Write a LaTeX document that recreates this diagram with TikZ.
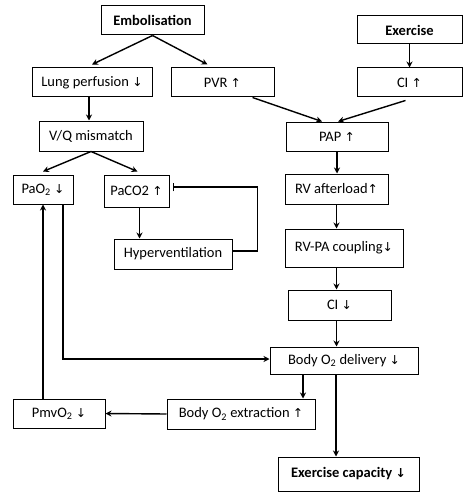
\documentclass[tikz,border=0pt]{standalone}
\usepackage{fontspec}
\setmainfont{Carlito}
\newfontfamily\arrowfont{DejaVu Sans}[Scale=0.85]
\newcommand{\arup}{{\arrowfont ↑}}
\newcommand{\ardn}{{\arrowfont ↓}}
\usetikzlibrary{arrows.meta}

\begin{document}
\begin{tikzpicture}[x=1pt,y=-1pt,>={Stealth[length=6pt,width=6pt]}]
\tikzstyle{every path}=[line width=1.4pt]
\tikzstyle{fbox}=[draw,line width=1pt,inner sep=2pt,font=\fontsize{14.5}{16}\selectfont]
\tikzstyle{bbox}=[fbox,font=\fontsize{14.5}{16}\selectfont\bfseries]

\useasboundingbox (0,0) rectangle (474,500);

%% Top row
\node [bbox,minimum width=103pt,minimum height=29pt] (emb) at (152.5,20.5) {Embolisation};
\node [bbox,minimum width=105pt,minimum height=28pt] (exer) at (409.5,30) {Exercise};
\node [fbox,minimum width=120pt,minimum height=29pt] (lung) at (92,82.5) {Lung perfusion \ardn};
\node [fbox,minimum width=103pt,minimum height=29pt] (pvr) at (222.5,82.5) {PVR \arup};
\node [fbox,minimum width=105pt,minimum height=29pt] (ciup) at (409.5,82.5) {CI \arup};
\node [fbox,minimum width=104pt,minimum height=30pt] (vq) at (91,136) {V/Q mismatch};
\node [fbox,minimum width=102pt,minimum height=29pt] (pap) at (337,136.5) {PAP \arup};

%% Gas exchange side
\node [fbox,minimum width=60pt,minimum height=29pt] (pao2) at (43,189.5) {PaO\textsubscript{2} \ardn};
\node [fbox,minimum width=65pt,minimum height=32pt] (paco2) at (136.5,191) {PaCO2 \arup};
\node [fbox,minimum width=118pt,minimum height=30pt] (hyper) at (173,254) {Hyperventilation};

%% Right ventricle side
\node [fbox,minimum width=103pt,minimum height=30pt] (rvaft) at (336.5,189) {RV afterload\arup};
\node [fbox,minimum width=118pt,minimum height=38pt] (rvpa) at (344,248) {RV-PA coupling\ardn};
\node [fbox,minimum width=103pt,minimum height=30pt] (cidown) at (339.5,305) {CI \ardn};

%% Bottom
\node [fbox,minimum width=148pt,minimum height=27pt] (deliv) at (344,360.5) {Body O\textsubscript{2} delivery \ardn};
\node [fbox,minimum width=92pt,minimum height=29pt] (pmv) at (59,413.5) {PmvO\textsubscript{2} \ardn};
\node [fbox,minimum width=148pt,minimum height=30pt] (extr) at (241,414) {Body O\textsubscript{2} extraction \arup};
\node [bbox,minimum width=141pt,minimum height=34pt] (excap) at (348.5,474) {Exercise capacity \ardn};

%% Arrows
\draw[->] (emb.south) -- ([yshift=3pt]lung.north);
\draw[->] (emb.south) -- ([xshift=-15pt,yshift=3pt]pvr.north);
\draw[->] (exer.south) -- (ciup.north);
\draw[->] ([xshift=30pt]pvr.south) -- ([xshift=-15pt]pap.north);
\draw[->] ([xshift=-4pt,yshift=-3pt]ciup.south) -- ([xshift=1pt]pap.north);
\draw[->] ([xshift=-3pt]lung.south) -- ([xshift=-3pt]lung.south |- vq.north);
\draw[->] (vq.south) -- ([yshift=3pt]pao2.north);
\draw[->] (vq.south) -- ([xshift=1pt,yshift=3pt]paco2.north);
\draw[->] (pap.south) -- (pap.south |- rvaft.north);
\draw[->] (rvaft.south) -- (rvaft.south |- rvpa.north);
\draw[->] (rvaft.south |- rvpa.south) -- (rvaft.south |- cidown.north);
\draw[->] (rvaft.south |- cidown.south) -- (rvaft.south |- deliv.north);
\draw[->] ([xshift=3pt]paco2.south) -- ([xshift=3pt]paco2.south |- hyper.north);
\draw[-|] ([yshift=3pt]hyper.east) -- ++(25,0) |- ([xshift=3pt,yshift=4pt]paco2.east);
\draw[->] ([xshift=20pt]pao2.south) |- ([yshift=1.5pt]deliv.west);
\draw[->] (pmv.north -| pao2.south) -- (pao2.south);
\draw[->] ([xshift=-41pt]deliv.south) -- ([xshift=-41pt]deliv.south |- extr.north);
\draw[->] ([xshift=-8pt]deliv.south) -- ([xshift=-8pt]deliv.south |- excap.north);
\draw[->] (extr.west) -- (pmv.east);

\end{tikzpicture}
\end{document}
